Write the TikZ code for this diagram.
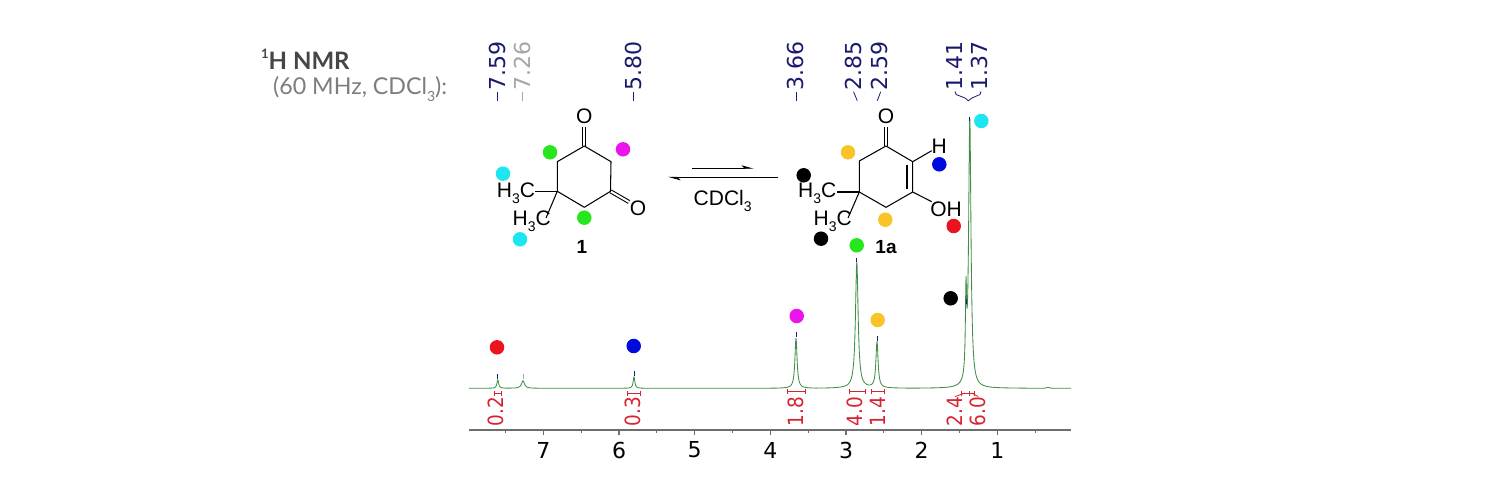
\documentclass[tikz,border=0pt]{standalone}
\usepackage{graphicx}
\usepackage{fontspec}
\setmainfont{Liberation Sans}
\newfontfamily\djvfont{DejaVu Sans}
\newfontfamily\latofont{Lato}
\usetikzlibrary{arrows.meta}
\definecolor{navyt}{RGB}{25,25,110}
\definecolor{greyt}{RGB}{165,165,165}
\definecolor{specg}{RGB}{65,140,70}
\definecolor{intred}{RGB}{215,35,50}
\definecolor{dgreen}{RGB}{40,230,30}
\definecolor{dmag}{RGB}{235,20,235}
\definecolor{dcyan}{RGB}{30,230,240}
\definecolor{dyel}{RGB}{250,195,40}
\definecolor{dblue}{RGB}{0,10,220}
\definecolor{dred}{RGB}{235,20,30}
\newcommand{\sbs}[1]{\raisebox{-0.28em}{\fontsize{14}{14}\selectfont #1}}
\tikzset{
  x=1pt,y=-1pt,
  bond/.style={line width=1.05pt,black},
  dbond/.style={line width=1.05pt,black,double=white,double distance=2pt},
  atom/.style={inner sep=0pt,font=\fontsize{21}{22}\selectfont,text=black},
  bold lab/.style={inner sep=0pt,font=\fontsize{19}{20}\selectfont\bfseries,text=black},
  dotm/.style={circle,inner sep=0pt,minimum size=14.5pt,fill=#1,draw=none},
  shift lab/.style={inner sep=0pt,rotate=90,font=\fontsize{22}{23}\selectfont\djvfont,text=#1},
  shift tick/.style={line width=0.8pt,draw=#1},
  int lab/.style={inner sep=0pt,rotate=90,font=\fontsize{21}{22}\selectfont\djvfont,text=intred},
  int line/.style={line width=0.8pt,intred},
  axis line/.style={line width=1.1pt,draw={rgb,255:red,110;green,110;blue,110}},
  axis num/.style={inner sep=0pt,font=\fontsize{22}{24}\selectfont\djvfont,text=black},
  spec/.style={line width=0.85pt,specg},
  peak tick/.style={line width=0.8pt,draw=#1},
  declare function={Lz(\d,\h,\w)=\h/(1+(\d/\w)*(\d/\w));}
}
\begin{document}
\begin{tikzpicture}
\useasboundingbox (0,0) rectangle (1500,500);
% title
\node[anchor=west,inner sep=0pt,font=\fontsize{24}{26}\selectfont\latofont\bfseries,text={rgb,255:red,70;green,70;blue,70}] (title) at (261,59) {\raisebox{0.45em}{\fontsize{13}{13}\selectfont 1}H NMR};
\node[anchor=west,inner sep=0pt,font=\fontsize{23.2}{26}\selectfont\latofont,text={rgb,255:red,125;green,125;blue,125}] (cond) at (273,89) {(60 MHz, CDCl\raisebox{-0.28em}{\fontsize{14}{14}\selectfont 3}):};
% shift labels
\foreach \n/\x/\t/\c in {a/497/7.59/navyt,c/633/5.80/navyt,d/795/3.66/navyt,e/853.5/2.85/navyt,f/879/2.59/navyt,g/954.5/1.41/navyt,h/979.5/1.37/navyt,b/522/7.26/greyt}{
  \node[shift lab=\c] (lab\n) at (\x,66) {\t};
}
\coordinate (ta0) at (497,92); \coordinate (ta1) at (497,101);
\coordinate (tb0) at (522,92); \coordinate (tb1) at (522,101);
\coordinate (tc0) at (633,92); \coordinate (tc1) at (633,101);
\coordinate (td0) at (796,92); \coordinate (td1) at (796,101);
\coordinate (te0) at (853.5,91.7); \coordinate (te1) at (857.3,100.7);
\coordinate (tf0) at (880.7,91.7); \coordinate (tf1) at (877.3,100.7);
\coordinate (tg0) at (955,91.5); \coordinate (tg1) at (968.3,100.7);
\coordinate (th0) at (981,91.5);
\draw[shift tick=navyt] (ta0)--(ta1);
\draw[shift tick=greyt] (tb0)--(tb1);
\draw[shift tick=navyt] (tc0)--(tc1);
\draw[shift tick=navyt] (td0)--(td1);
\draw[shift tick=navyt] (te0)--(te1);
\draw[shift tick=navyt] (tf0)--(tf1);
\draw[shift tick=navyt] (tg0)--++(1,3)--(965,98)--(tg1)--(972,98)--(980,94.5)--(th0);
% molecule 1
\coordinate (m1) at (584.3,146); \coordinate (m2) at (611,161.7); \coordinate (m3) at (610.5,191.3);
\coordinate (m4) at (584.3,207.3); \coordinate (m5) at (557.3,191.3); \coordinate (m6) at (557.3,161.7);
\node[atom] (mo1) at (584.3,116.7) {O};
\node[atom] (mo2) at (638,208.7) {O};
\node[atom] (mh1) at (516,193) {H\sbs{3}C};
\node[atom] (mh2) at (531.7,221) {H\sbs{3}C};
\coordinate (mb2) at (546,218);
\draw[dbond] (m1)--(584.3,127);
\draw[dbond] (m3)--(629,202);
\draw[bond,line join=round] (m1)--(m2)--(m3)--(m4)--(m5)--(m6)--cycle;
\draw[bond] (m5)--(mh1.east |- m5);
\draw[bond] (m5)--(mb2);
\node[bold lab] (n1) at (582,247) {1};
% molecule 1a
\coordinate (k1) at (886,146); \coordinate (k2) at (912.7,161.7); \coordinate (k3) at (912.7,192);
\coordinate (k4) at (886,207.3); \coordinate (k5) at (859.3,192); \coordinate (k6) at (859.3,161);
\node[atom] (ko1) at (886,116.7) {O};
\node[atom] (kh) at (939.3,146.7) {H};
\node[atom] (koh) at (946,209) {OH};
\node[atom] (kh1) at (817.3,193.3) {H\sbs{3}C};
\node[atom] (kh2) at (832.7,221) {H\sbs{3}C};
\coordinate (kb2) at (848,218);
\coordinate (kd0) at (907,165); \coordinate (kd1) at (907,189);
\coordinate (khb) at (931.7,150.7); \coordinate (kob) at (931.7,201.7);
\draw[dbond] (k1)--(886,127);
\draw[bond,line join=round] (k1)--(k2)--(k3)--(k4)--(k5)--(k6)--cycle;
\draw[bond] (kd0)--(kd1);
\draw[bond] (k2)--(khb);
\draw[bond] (k3)--(kob);
\draw[bond] (k5)--(kh1.east |- k5);
\draw[bond] (k5)--(kb2);
\node[bold lab] (n1a) at (886,247.5) {1a};
% equilibrium arrows
\coordinate (ar1) at (692,168.3); \coordinate (ar2) at (754,168.3);
\coordinate (ar3) at (778.3,177.3); \coordinate (ar4) at (668,177.3);
\draw[line width=0.9pt,black,-{Stealth[harpoon,length=11pt,width=6pt,inset=3pt]}] (ar1)--(ar2);
\draw[line width=0.9pt,black,-{Stealth[harpoon,length=11pt,width=6pt,inset=3pt]}] (ar3)--(ar4);
\node[atom] (cdcl) at (722.7,201) {CDCl\sbs{3}};
% spectrum
\draw[spec,line join=round]
  (469,388.3)
  -- plot[domain=470:560,samples=361] (\x,{388.3-Lz(\x-497.8,8.5,1.0)-Lz(\x-523,7.5,1.8)})
  -- plot[domain=600:670,samples=281] (\x,{388.3-Lz(\x-634,11.5,1.0)})
  -- plot[domain=756:816,samples=241] (\x,{388.3-Lz(\x-796,50,1.3)})
  -- plot[domain=816:917,samples=405] (\x,{388.3-Lz(\x-856.8,126,1.6)-Lz(\x-877,46,1.3)})
  -- plot[domain=917:1020,samples=413] (\x,{388.3-Lz(\x-966,80,0.7)-Lz(\x-969.8,268,1.4)})
  -- plot[domain=1035:1061,samples=53] (\x,{388.3-Lz(\x-1048,1,1.5)})
  -- (1071,388.3);
% peak tops
\draw[peak tick=navyt] (497.7,374)--(497.7,379);
\draw[peak tick=greyt] (523,374)--(523,379);
\draw[peak tick=navyt] (634,371)--(634,376);
\draw[peak tick=navyt] (796,332)--(796,337);
\draw[peak tick=navyt] (856.8,258)--(856.8,262);
\draw[peak tick=navyt] (877,336)--(877,341);
\draw[peak tick=navyt] (966,299)--(966,304);
\draw[peak tick=navyt] (969.8,117)--(969.8,121);
% integrals
\foreach \n/\xa/\xb/\xl/\yb/\t in {p/494/501.5/496/393.5/0.2,q/627/640/633/393/0.3,r/787.3/805/796/391.7/1.8,s/849.3/865.7/855/391.7/4.0,t/871/884/877.5/391.7/1.4,u/961/969/955/393/2.4,v/969/974.5/978.3/393/6.0}{
  \node[int lab] (int\n) at (\xl,411.5) {\scalebox{0.88}[1]{\t}};
  \coordinate (ia\n) at (\xa,\yb); \coordinate (ib\n) at (\xb,\yb);
  \draw[int line] (ia\n)--(ib\n);
  \draw[int line] ([yshift=-2.5pt]ia\n)--([yshift=2.5pt]ia\n);
  \draw[int line] ([yshift=-2.5pt]ib\n)--([yshift=2.5pt]ib\n);
}
\coordinate (su) at (965,393); \coordinate (sv) at (971.7,393);
\draw[int line] (su)--(intu.east);
\draw[int line] (sv)--(intv.east);
% axis
\coordinate (ax0) at (469,430); \coordinate (ax1) at (1071,430);
\draw[axis line] (ax0)--(ax1);
\foreach \v/\x in {7/543.3,6/619,5/694.7,4/770.4,3/846,2/921.7,1/997.3}{
  \draw[axis line] (\x,430)--(\x,435);
  \node[axis num] (num\v) at (\x,450) {\v};
}
\foreach \x in {505.5,581.2,656.9,732.5,808.2,883.9,959.5,1035.2}{
  \draw[axis line,line width=0.9pt] (\x,430)--(\x,433);
}
% dots
\foreach \n/\x/\y/\c in {
  da/550/152.3/dgreen,db/623/149.3/dmag,dc/503/173.7/dcyan,dd/584.3/217.7/dgreen,de/520/239.3/dcyan,
  df/848/152.3/dyel,dg/939.3/164.3/dblue,dh/803.7/175.3/black,di/885.3/219.7/dyel,dj/953.7/226/dred,
  dk/821/238.7/black,dl/856.7/245.3/dgreen,dm/981.3/121/dcyan,
  dn/497/347.3/dred,do/633.7/346/dblue,dp/796.7/316/dmag,dq/877.7/320/dyel,dr/950.7/298.3/black}{
  \node[dotm=\c] (\n) at (\x,\y) {};
}
\end{tikzpicture}
\end{document}
